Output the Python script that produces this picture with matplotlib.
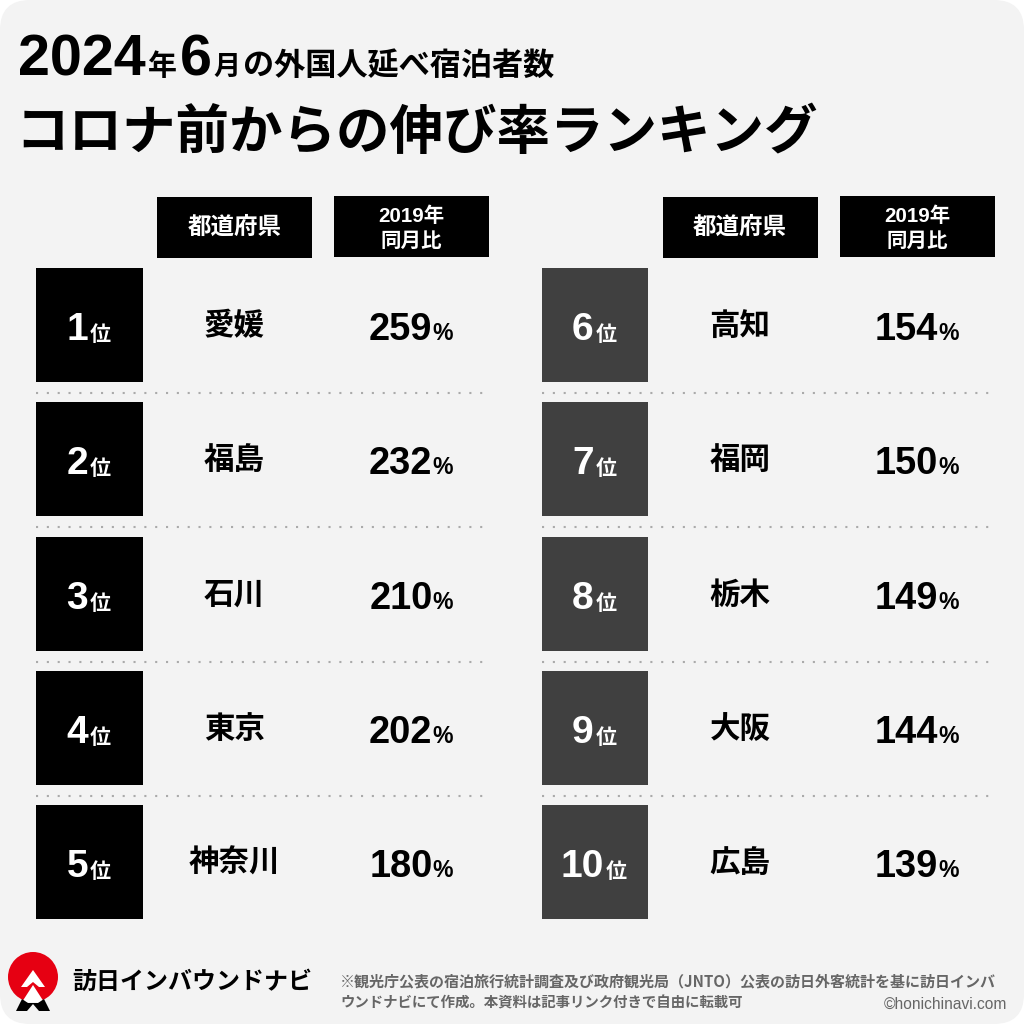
import matplotlib
matplotlib.use("Agg")
import matplotlib.pyplot as plt
from matplotlib.patches import FancyBboxPatch, Rectangle, Circle, Polygon

JP = ['Noto Sans CJK JP', 'DejaVu Sans']
LAT = ['Liberation Sans', 'Noto Sans CJK JP']
plt.rcParams['font.family'] = JP

ranks_left = [1, 2, 3, 4, 5]
ranks_right = [6, 7, 8, 9, 10]
prefs_left = ['愛媛', '福島', '石川', '東京', '神奈川']
prefs_right = ['高知', '福岡', '栃木', '大阪', '広島']
ratios_left = [259, 232, 210, 202, 180]
ratios_right = [154, 150, 149, 144, 139]
row_tops = [268, 402, 537, 671, 805]
col_offsets = [0, 505.5]
rank_colors = ['#000000', '#404040']

PX = 0.72
fig = plt.figure(figsize=(10.24, 10.24), dpi=100, facecolor='white')
ax = fig.add_axes([0, 0, 1, 1])
ax.set_xlim(0, 1024)
ax.set_ylim(1024, 0)
ax.axis('off')
ax.add_patch(FancyBboxPatch((0, 0), 1024, 1024, boxstyle='round,pad=0,rounding_size=30',
                            fc='#f3f3f3', ec='none'))

def t(x, y, s, px, color='black', ha='center', va='baseline', fam=JP, weight='bold'):
    return ax.text(x, y, s, fontsize=px * PX, color=color, ha=ha, va=va, family=fam, weight=weight)

# title
t(17.5, 75, '2024', 57.5, ha='left', fam=LAT)
t(148, 75, '年', 29, ha='left')
t(179.5, 75, '6', 57.5, ha='left', fam=LAT)
t(213, 75, '月', 27, ha='left')
t(243, 75, 'の外国人延べ宿泊者数', 31.2, ha='left')
t(15.5, 149, 'コロナ前からの伸び率ランキング', 53.5, ha='left')

for off, ranks, prefs, ratios, col in zip(col_offsets, [ranks_left, ranks_right],
                                          [prefs_left, prefs_right],
                                          [ratios_left, ratios_right], rank_colors):
    ax.add_patch(Rectangle((157 + off, 197), 155, 61, fc='black', ec='none'))
    ax.add_patch(Rectangle((334 + off, 196), 155, 61, fc='black', ec='none'))
    t(234.5 + off, 227, '都道府県', 23.5, color='white', va='center')
    t(411.5 + off, 216, '2019年', 20.5, color='white', va='center', fam=LAT)
    t(411.5 + off, 240, '同月比', 20.5, color='white', va='center')
    for i, (top, r, p, v) in enumerate(zip(row_tops, ranks, prefs, ratios)):
        ax.add_patch(Rectangle((36 + off, top), 106.5, 114, fc=col, ec='none'))
        base = top + 72
        nr = 88 + off if r < 10 else 98 + off
        t(nr, base, str(r), 39, color='white', ha='right', fam=LAT)
        t(nr + 2, base + 1, '位', 21, color='white', ha='left')
        t(234.5 + off, top + 58, p, 30.5, va='center')
        t(432.5 + off, base, str(v), 38, ha='right', fam=LAT)
        t(432.5 + off, base, '%', 23, ha='left', fam=LAT)
        if i < 4:
            ax.plot([36 + off, 487 + off], [top + 124.5] * 2, color='#aaaaaa', lw=1.5,
                    dashes=(1, 4.2), dash_capstyle='butt')

# logo
ax.add_patch(Circle((33, 977), 25, fc='#e60012', ec='none', zorder=2))
ax.add_patch(Polygon([[33, 970], [45, 987], [39, 987], [33, 982], [27, 987], [21, 987]],
                     closed=True, fc='white', ec='none', zorder=3))
ax.add_patch(Polygon([[33, 985], [44, 1002], [22, 1002]], closed=True, fc='white', ec='none', zorder=3))
ax.add_patch(Polygon([[22, 999], [16, 1011], [27, 1011], [33, 1004], [39, 1011], [50, 1011],
                      [44, 999], [38, 1003], [28, 1003]],
                     closed=True, fc='black', ec='none', zorder=5))
t(72, 982, '訪日インバウンドナビ', 24, ha='left', va='center')

# footnote
t(340, 981, '※観光庁公表の宿泊旅行統計調査及び政府観光局（JNTO）公表の訪日外客統計を基に訪日インバ',
  15.05, color='#666666', ha='left', va='center')
t(340, 1003, 'ウンドナビにて作成。本資料は記事リンク付きで自由に転載可', 14.45, color='#666666', ha='left', va='center')
t(1007, 1004, '©honichinavi.com', 15.5, color='#666666', ha='right', va='center', fam=LAT, weight='normal')

fig.savefig('out.png', dpi=100, facecolor='white')
